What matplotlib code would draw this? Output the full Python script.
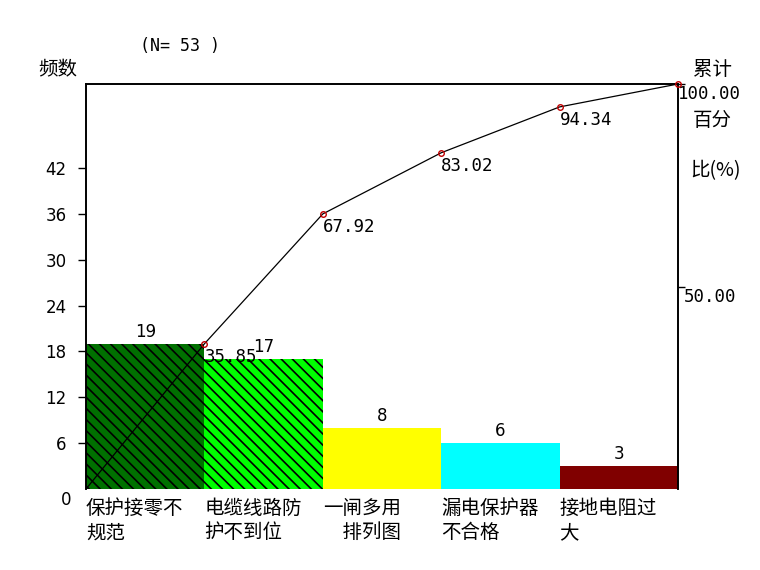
import matplotlib
matplotlib.use("Agg")
import matplotlib.pyplot as plt

plt.rcParams['font.family'] = ['Noto Sans CJK SC', 'DejaVu Sans']
plt.rcParams['hatch.linewidth'] = 1.2

categories = ["保护接零不\n规范", "电缆线路防\n护不到位", "一闸多用\n\u3000排列图", "漏电保护器\n不合格", "接地电阻过\n大"]
counts = [19, 17, 8, 6, 3]
cum_pct = [35.85, 67.92, 83.02, 94.34, 100.00]
left_ticks = [6, 12, 18, 24, 30, 36, 42]
right_ticks = [50, 100]
right_tick_labels = ["50.00", "100.00"]
colors = ["#007000", "#00ff00", "#ffff00", "#00ffff", "#800000"]
hatches = ["\\\\\\", "\\\\\\", "", "", ""]
N = 53

fig = plt.figure(figsize=(7.6, 5.7), dpi=100)
ax = fig.add_axes([86/760, 1-489/570, (678-86)/760, (489-84)/570])
n = len(counts)
xs = list(range(n))
for i in xs:
    ax.bar(i, counts[i], width=1.0, color=colors[i], hatch=hatches[i] or None,
           edgecolor="black" if hatches[i] else colors[i], linewidth=0)
    ax.text(i, counts[i] + 0.4, str(counts[i]), ha="center", va="bottom",
            fontsize=12, family="DejaVu Sans")

ax.set_xlim(-0.5, n - 0.5)
ax.set_ylim(0, N)
ax.set_xticks([])
ax.set_yticks(left_ticks)
ax.set_yticklabels([str(t) for t in left_ticks], fontsize=12, family="DejaVu Sans")
ax.tick_params(axis="y", direction="out", length=6, width=1, pad=8)
ax.spines["bottom"].set_visible(False)
for s in ["left", "top", "right"]:
    ax.spines[s].set_linewidth(1.2)

ax.text(-0.62, -0.3, "0", ha="right", va="top", fontsize=12, family="DejaVu Sans")
for i, c in enumerate(categories):
    ax.text(i - 0.5, -1.2, c, ha="left", va="top", fontsize=14, linespacing=1.2)

ax2 = ax.twinx()
ax2.set_ylim(0, 100)
ax2.set_xlim(-0.5, n - 0.5)
lx = [-0.5] + [i + 0.5 for i in xs]
ly = [0] + cum_pct
ax2.plot(lx, ly, color="black", linewidth=0.9, zorder=5)
ax2.plot(lx[1:], ly[1:], linestyle="none", marker="o", markersize=4,
         markerfacecolor="none", markeredgecolor="#c00000", markeredgewidth=1, zorder=6, clip_on=False)
for i in xs[:-1]:
    ax2.text(i + 0.5, cum_pct[i] - 1.0, f"{cum_pct[i]:.2f}", ha="left", va="top",
             fontsize=12.5, family="DejaVu Sans Mono")
ax2.set_yticks(right_ticks)
ax2.set_yticklabels([])
ax2.tick_params(axis="y", direction="out", length=5, width=1)
for t, lab, dx in zip(right_ticks, right_tick_labels, [0.05, 0.0]):
    ax2.text(n - 0.5 + dx, t - 0.3, lab, ha="left", va="top", fontsize=12.5,
             family="DejaVu Sans Mono", transform=ax2.transData, clip_on=False)
ax2.spines["bottom"].set_visible(False)
for s in ["left", "top", "right"]:
    ax2.spines[s].set_linewidth(1.2)

fig.text(180/760, 1-46/570, "(N= 53 )", ha="center", va="center", fontsize=12, family="DejaVu Sans Mono")
fig.text(58/760, 1-70/570, "频数", ha="center", va="center", fontsize=14)
fig.text(712/760, 1-70/570, "累计", ha="center", va="center", fontsize=14)
fig.text(712/760, 1-120/570, "百分", ha="center", va="center", fontsize=14)
fig.text(716/760, 1-171/570, "比(%)", ha="center", va="center", fontsize=14)

fig.savefig("out.png", dpi=100)
